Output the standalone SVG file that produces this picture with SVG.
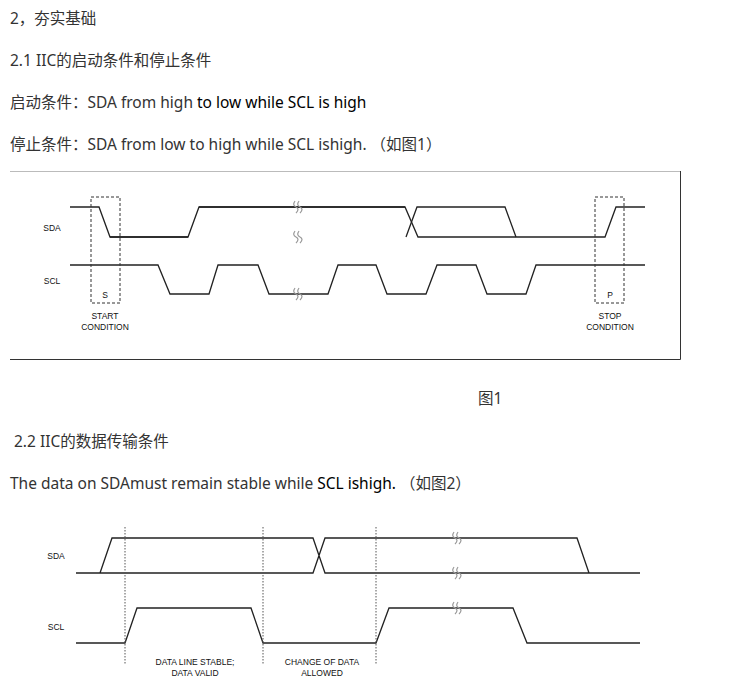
<svg xmlns="http://www.w3.org/2000/svg" width="742" height="689" viewBox="0 0 742 689">
<style>
.t{font-family:"Noto Sans","Noto Sans CJK SC",sans-serif;font-size:15.5px;fill:#333}
.k{fill:#000}
.w{fill:none;stroke:#222;stroke-width:1.3}
.l{font-family:"Liberation Sans",Arial,sans-serif;font-size:8.5px;fill:#111;text-anchor:middle}
.box{fill:none;stroke:#333;stroke-width:1;stroke-dasharray:3,2}
.dot{fill:none;stroke:#555;stroke-width:1;stroke-dasharray:1.5,1.5}
.sq{fill:none;stroke:#999;stroke-width:1.2}
</style>
<defs>
<path id="sq" class="sq" d="M-2,-8 q-3,4 1,6 q4,2 0,6 M2,-8 q-3,4 1,6 q4,2 0,6"/>
</defs>
<rect width="742" height="689" fill="#fff"/>
<g id="text">
<text class="t" x="10" y="24">2，夯实基础</text>
<text class="t" x="10" y="66">2.1 IIC的启动条件和停止条件</text>
<text class="t" x="10" y="108">启动条件：SDA from high <tspan class="k">to low while SCL is high</tspan></text>
<text class="t" x="10" y="150">停止条件：SDA from low to high while SCL ishigh. （如图1）</text>
<text class="t" x="478" y="404">图1</text>
<text class="t" x="14" y="447">2.2 IIC的数据传输条件</text>
<text class="t" x="10" y="489">The data on SDAmust remain stable while <tspan class="k">SCL ishigh.</tspan> （如图2）</text>
</g>
<g id="fig1">
<path d="M10,171.5 H680" stroke="#bbb" fill="none"/>
<path d="M680.5,171 V359.5 H10" stroke="#333" fill="none"/>
<text class="l" x="52" y="231">SDA</text>
<text class="l" x="52" y="284">SCL</text>
<path class="w" d="M70,207 H99 L110,237 H188 L199,207 H405 L418,237 H605 L616,207 H645"/>
<path class="w" d="M110,237 H188 M199,207 H405 M406,237 L417,207 H505 L516,237"/>
<path class="w" d="M70,265 H158 L170,294 H209 L218,265 H258 L269,294 H328 L338,265 H376 L387,294 H426 L437,265 H476 L487,294 H526 L536,265 H645"/>
<use href="#sq" x="297" y="209"/>
<use href="#sq" x="297" y="239"/>
<use href="#sq" x="297" y="296"/>
<rect class="box" x="91" y="197" width="29" height="106"/>
<rect class="box" x="595" y="197" width="29" height="106"/>
<text class="l" x="105" y="298">S</text>
<text class="l" x="610" y="298">P</text>
<text class="l" x="105" y="319">START</text>
<text class="l" x="105" y="330">CONDITION</text>
<text class="l" x="610" y="319">STOP</text>
<text class="l" x="610" y="330">CONDITION</text>
</g>
<g id="fig2">
<text class="l" x="56" y="559">SDA</text>
<text class="l" x="56" y="630">SCL</text>
<path class="w" d="M76,573 H100 L112,538 H313 L325,573 H640 M100,573 H313 L325,538 H577 L589,573"/>
<path class="w" d="M76,643 H125 L137,608 H251 L263,643 H376 L389,608 H513 L527,643 H640"/>
<use href="#sq" x="456" y="540"/>
<use href="#sq" x="456" y="575"/>
<use href="#sq" x="456" y="610"/>
<path class="dot" d="M125,527 V665 M263,527 V665 M376,527 V665"/>
<text class="l" x="195" y="665">DATA LINE STABLE;</text>
<text class="l" x="195" y="676">DATA VALID</text>
<text class="l" x="322" y="665">CHANGE OF DATA</text>
<text class="l" x="322" y="676">ALLOWED</text>
</g>
</svg>
